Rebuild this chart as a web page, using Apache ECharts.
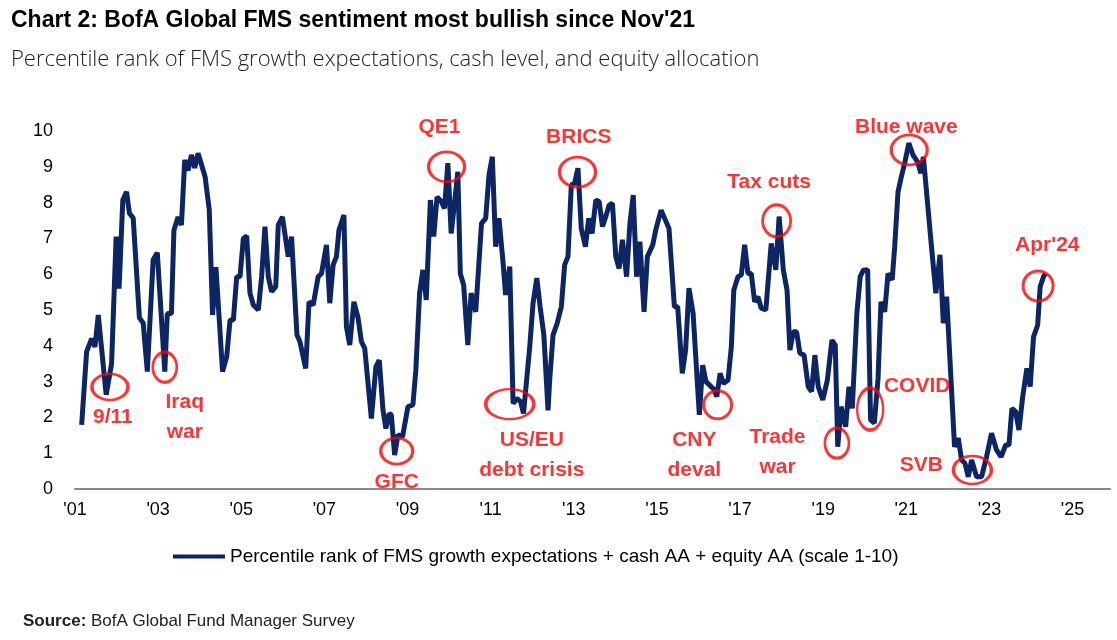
<!DOCTYPE html>
<html><head><meta charset="utf-8">
<script src="https://cdn.jsdelivr.net/npm/echarts@6/dist/echarts.min.js"></script>
<style>html,body{margin:0;padding:0;background:#fff}#c{width:1117px;height:640px}</style>
</head><body><div id="c"></div>
<script>
const years = [2001.16,2001.28,2001.40,2001.48,2001.56,2001.75,2001.88,2001.99,2002.06,2002.15,2002.24,2002.31,2002.40,2002.55,2002.64,2002.74,2002.88,2002.98,2003.16,2003.22,2003.32,2003.38,2003.48,2003.56,2003.64,2003.72,2003.80,2003.88,2003.96,2004.13,2004.23,2004.31,2004.39,2004.55,2004.65,2004.73,2004.81,2004.89,2004.97,2005.05,2005.13,2005.21,2005.29,2005.41,2005.49,2005.57,2005.65,2005.73,2005.83,2005.89,2005.99,2006.13,2006.21,2006.34,2006.41,2006.55,2006.63,2006.73,2006.85,2006.93,2007.05,2007.13,2007.21,2007.29,2007.35,2007.47,2007.53,2007.61,2007.71,2007.81,2007.89,2007.97,2008.13,2008.24,2008.32,2008.41,2008.48,2008.56,2008.61,2008.69,2008.77,2008.88,2009.01,2009.04,2009.13,2009.20,2009.29,2009.37,2009.45,2009.55,2009.63,2009.71,2009.81,2009.89,2009.97,2010.05,2010.13,2010.21,2010.27,2010.35,2010.45,2010.53,2010.64,2010.78,2010.88,2010.96,2011.04,2011.12,2011.20,2011.30,2011.36,2011.46,2011.54,2011.63,2011.72,2011.79,2011.94,2012.02,2012.11,2012.19,2012.28,2012.38,2012.42,2012.50,2012.60,2012.70,2012.78,2012.86,2012.94,2013.02,2013.10,2013.18,2013.28,2013.36,2013.44,2013.53,2013.61,2013.69,2013.77,2013.85,2013.93,2014.01,2014.09,2014.17,2014.27,2014.35,2014.43,2014.51,2014.59,2014.69,2014.77,2014.90,2014.97,2015.10,2015.29,2015.42,2015.50,2015.61,2015.69,2015.77,2015.87,2016.02,2016.10,2016.18,2016.38,2016.44,2016.52,2016.60,2016.71,2016.79,2016.85,2016.95,2017.03,2017.11,2017.19,2017.27,2017.35,2017.43,2017.51,2017.62,2017.75,2017.86,2017.94,2018.04,2018.13,2018.20,2018.28,2018.36,2018.44,2018.54,2018.64,2018.72,2018.80,2018.88,2018.99,2019.10,2019.21,2019.29,2019.35,2019.43,2019.54,2019.62,2019.70,2019.81,2019.89,2019.97,2020.07,2020.14,2020.23,2020.32,2020.39,2020.48,2020.56,2020.66,2020.72,2020.80,2020.88,2020.96,2021.06,2021.16,2021.27,2021.35,2021.41,2021.59,2021.71,2021.81,2021.89,2021.97,2022.16,2022.25,2022.33,2022.41,2022.49,2022.57,2022.69,2022.81,2022.93,2023.05,2023.17,2023.28,2023.39,2023.47,2023.54,2023.63,2023.71,2023.80,2023.90,2023.98,2024.06,2024.16,2024.22,2024.30,2024.35];
const values = [1.79,3.84,4.2,3.97,4.86,2.63,3.5,7.05,5.6,8.07,8.3,7.7,7.57,4.78,4.64,3.28,6.4,6.6,3.28,4.9,4.9,7.23,7.6,7.37,9.19,8.9,9.33,8.97,9.38,8.72,7.8,4.86,6.2,3.28,3.7,4.72,4.72,5.93,5.93,7.0,7.07,5.47,5.14,5.0,5.93,7.33,5.93,5.51,5.65,7.37,7.6,6.49,7.05,4.3,4.12,3.37,5.23,5.14,5.93,6.02,6.82,5.19,6.26,6.49,7.23,7.65,4.53,4.02,5.23,4.78,4.12,3.93,1.97,3.42,3.6,2.2,1.69,2.11,2.07,0.95,1.51,1.46,2.3,2.35,2.35,3.32,5.47,6.12,5.28,8.07,7.05,8.16,8.03,7.84,9.1,7.14,7.98,8.86,6.02,5.7,4.02,5.47,4.95,7.42,7.56,8.77,9.28,6.77,7.56,6.3,5.42,6.21,2.39,2.53,2.44,2.11,3.97,5.19,5.89,5.09,4.3,2.2,3.04,4.3,4.63,5.09,6.26,6.49,8.49,8.54,8.96,7.28,6.77,7.56,7.14,8.07,8.03,7.33,7.61,7.93,7.98,6.49,6.16,6.96,5.93,7.42,8.21,5.93,6.91,4.95,6.49,6.82,7.23,7.79,7.28,5.09,5.09,3.23,3.88,5.61,4.91,2.07,3.46,3.0,2.77,2.58,3.23,2.95,3.04,3.97,5.56,5.93,5.98,6.82,6.02,6.02,5.23,5.37,5.05,5.0,6.86,6.12,7.61,6.12,5.56,3.88,4.39,4.39,3.79,3.74,2.86,2.72,3.74,2.86,2.49,3.04,4.16,4.02,1.18,2.3,1.74,2.86,2.25,4.91,5.93,6.12,6.12,1.93,1.84,3.09,5.23,4.95,6.02,5.84,6.77,8.3,8.72,9.1,9.66,9.33,9.14,8.82,9.28,6.96,5.47,6.54,4.63,5.37,1.18,1.42,0.81,0.72,0.34,0.81,0.34,0.34,0.9,1.56,1.09,0.9,1.23,1.23,2.25,2.16,1.65,2.58,3.37,2.86,4.25,4.58,5.65,5.93,6.02];
// annotations: circle centre (year, value), circle size (px), label text and label anchor (year, value)
const annNames = ['9/11','Iraq\nwar','GFC','QE1','BRICS','US/EU\ndebt crisis','CNY\ndeval','Tax cuts','Trade\nwar','COVID','Blue wave','SVB',"Apr'24"];
const annCircleX = [2001.84,2003.16,2008.74,2009.94,2013.09,2011.46,2016.46,2017.88,2019.33,2020.13,2021.07,2022.59,2024.17];
const annCircleY = [2.85,3.4,1.06,9.0,8.85,2.37,2.35,7.49,1.28,2.23,9.47,0.53,5.67];
const annW = [36,24,32,36,36,48,28,28,24,26,36,38,30];
const annH = [26,30,26,30,30,30,28,32,30,42,30,28,30];
const annTextX = [2001.91,2003.64,2008.74,2009.77,2013.12,2011.99,2015.9,2017.7,2017.9,2021.26,2021.0,2021.36,2024.39];
const annTextY = [2.0,2.0,0.2,10.1,9.83,0.95,0.95,8.58,1.03,2.88,10.1,0.67,6.82];
const xTicks = [2001,2003,2005,2007,2009,2011,2013,2015,2017,2019,2021,2023,2025];

const chart = echarts.init(document.getElementById('c'));
const red = '#ff0000';
chart.setOption({
  animation:false,
  title:[
    {text:"Chart 2: BofA Global FMS sentiment most bullish since Nov'21",left:6,top:4,textStyle:{fontFamily:'Liberation Sans Narrow, Liberation Sans',fontWeight:'bold',fontSize:23,color:'#000'}},
    {text:'Percentile rank of FMS growth expectations, cash level, and equity allocation',left:6,top:44,textStyle:{fontFamily:'Open Sans',fontWeight:300,fontSize:22,color:'#222'}},
    {text:'{b|Source:} {n|BofA Global Fund Manager Survey}',left:18,top:608,textStyle:{fontWeight:'normal',fontSize:17,color:'#222',rich:{b:{fontWeight:'bold',fontSize:17,color:'#222',fontFamily:'Liberation Sans Narrow, Liberation Sans'},n:{fontWeight:'normal',fontSize:17,color:'#222',fontFamily:'Liberation Sans Narrow, Liberation Sans'}}}}
  ],
  legend:{top:542,left:168,itemWidth:52,itemHeight:4,icon:'rect',data:['Percentile rank of FMS growth expectations + cash AA + equity AA (scale 1-10)'],textStyle:{fontFamily:'Liberation Sans',fontSize:19,color:'#000'}},
  grid:{left:75,right:7,top:131,bottom:151},
  xAxis:{type:'value',min:2001,max:2025.9,interval:2,splitLine:{show:false},
    axisLine:{lineStyle:{color:'#888',width:2}},axisTick:{show:false},
    axisLabel:{fontFamily:'Liberation Sans',fontSize:18,color:'#000',margin:12,showMaxLabel:false,formatter:v=>xTicks.includes(v)?"'"+String(v).slice(2):''}},
  yAxis:{type:'value',min:0,max:10,interval:1,splitLine:{show:false},axisLine:{show:false},axisTick:{show:false},
    axisLabel:{fontFamily:'Liberation Sans',fontSize:18,color:'#000',margin:22}},
  series:[
    {name:'Percentile rank of FMS growth expectations + cash AA + equity AA (scale 1-10)',type:'line',symbol:'none',color:'#0b2565',lineStyle:{width:5,color:'#0b2565'},
     data:years.map((y,i)=>[y,values[i]])},
    {type:'scatter',symbol:'circle',z:5,silent:true,clip:false,
     data:annCircleX.map((x,i)=>({value:[x,annCircleY[i]],symbolSize:[annW[i],annH[i]]})),
     itemStyle:{color:'rgba(0,0,0,0)',borderColor:red,borderWidth:3}},
    {type:'scatter',symbolSize:0,z:6,silent:true,clip:false,
     data:annTextX.map((x,i)=>({value:[x,annTextY[i]],name:annNames[i]})),
     label:{show:true,position:'inside',formatter:p=>p.name,color:red,fontFamily:'Liberation Sans Narrow, Liberation Sans',fontWeight:'bold',fontSize:21,lineHeight:30,align:'center'}}
  ]
});
</script></body></html>
